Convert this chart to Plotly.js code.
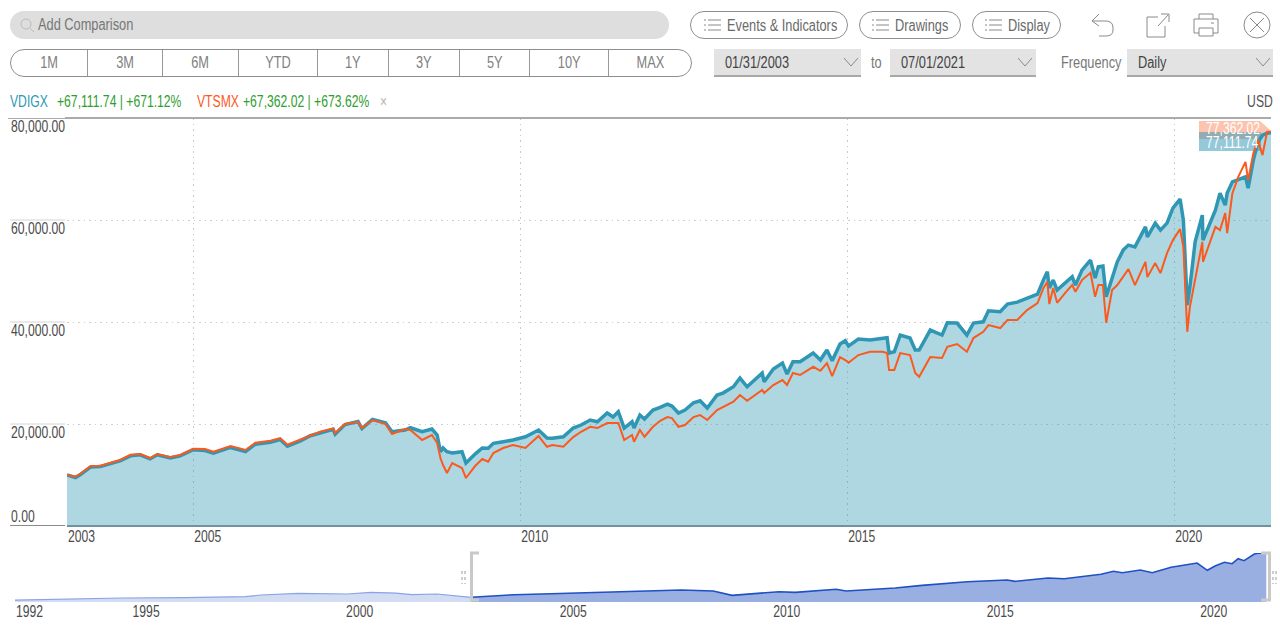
<!DOCTYPE html>
<html><head><meta charset="utf-8">
<script src="https://cdn.plot.ly/plotly-3.0.1.min.js"></script>
<style>
html,body{margin:0;padding:0;background:#fff;overflow:hidden}
body,div{font-family:"Liberation Sans",sans-serif}
#chart{position:absolute;left:0;top:0;width:1280px;height:627px}
#ui{position:absolute;left:0;top:0;width:1280px;height:627px;font-size:16px;color:#777}
#ui .b{position:absolute;box-sizing:border-box;white-space:nowrap}
.pill{border:1px solid #8e8e8e;border-radius:14px;height:28px;top:11px;line-height:27px;color:#6a6a6a}
.sel{background:#e3e3e3;border-bottom:2px solid #a8a8a8;height:28px;top:49px;line-height:27px;color:#444;padding-left:11px}
.rg{position:absolute;top:0;height:26px;line-height:26px;text-align:center;color:#808080;border-left:1px solid #999;box-sizing:border-box}
.nw{display:inline-block;transform:scaleX(.8);transform-origin:left center}
.rg .nw{transform-origin:center center}
svg.i{position:absolute;overflow:visible;fill:none;stroke:#8a8a8a;stroke-width:1}
</style></head><body>
<div id="chart"></div>
<div id="ui">
 <div class="b" style="left:10px;top:11px;width:659px;height:28px;background:#dedede;border-radius:14px;line-height:28px;padding-left:28px;color:#767676"><span class="nw">Add Comparison</span></div>
 <svg class="i" style="left:20px;top:18px" width="15" height="15"><circle cx="6" cy="6" r="5" stroke="#bbb"/><path d="M10 10L14 14" stroke="#bbb"/></svg>
 <div class="b" style="left:10px;top:49px;width:682px;height:28px;border:1px solid #8e8e8e;border-radius:14px" id="rg"></div>
 <div class="b pill" style="left:690px;width:158px;padding-left:36px"><span class="nw">Events &amp; Indicators</span></div>
 <div class="b pill" style="left:859px;width:102px;padding-left:35px"><span class="nw">Drawings</span></div>
 <div class="b pill" style="left:972px;width:89px;padding-left:35px"><span class="nw">Display</span></div>
 <svg class="i" style="left:704px;top:19px" width="18" height="12"><path d="M4 1H17M4 6H17M4 11H17M0 1H2M0 6H2M0 11H2"/></svg>
 <svg class="i" style="left:872px;top:19px" width="18" height="12"><path d="M4 1H17M4 6H17M4 11H17M0 1H2M0 6H2M0 11H2"/></svg>
 <svg class="i" style="left:985px;top:19px" width="18" height="12"><path d="M4 1H17M4 6H17M4 11H17M0 1H2M0 6H2M0 11H2"/></svg>
 <svg class="i" style="left:1090px;top:12px" width="26" height="26"><path d="M9 2L2 9L9 14M2 9H16Q23 9 23 16V18Q23 24 16 24H9"/></svg>
 <svg class="i" style="left:1145px;top:12px" width="26" height="26"><path d="M13 5H2V25H20V14M13 14L23 3M16 2H24V10"/></svg>
 <svg class="i" style="left:1192px;top:13px" width="28" height="24"><path d="M7 6V1H21V6M7 20H2V6H26V20H21M7 15H21V23H7ZM19 10H22"/></svg>
 <svg class="i" style="left:1243px;top:11px" width="28" height="28"><circle cx="14" cy="14" r="13"/><path d="M7 7L21 21M21 7L7 21"/></svg>
 <div class="b sel" style="left:714px;width:147px"><span class="nw">01/31/2003</span></div>
 <div class="b" style="left:871px;top:49px;line-height:28px;color:#777"><span class="nw">to</span></div>
 <div class="b sel" style="left:890px;width:146px"><span class="nw">07/01/2021</span></div>
 <div class="b" style="left:1061px;top:49px;line-height:28px;color:#777"><span class="nw">Frequency</span></div>
 <div class="b sel" style="left:1127px;width:146px"><span class="nw">Daily</span></div>
 <svg class="i" style="left:844px;top:57px" width="15" height="10"><path d="M0 1L7 9L14 1"/></svg>
 <svg class="i" style="left:1018px;top:57px" width="15" height="10"><path d="M0 1L7 9L14 1"/></svg>
 <svg class="i" style="left:1256px;top:57px" width="15" height="10"><path d="M0 1L7 9L14 1"/></svg>
</div>
<script>
// ---- data ----
const years = [2003.07,2003.20,2003.27,2003.43,2003.58,2003.73,2003.88,2004.04,2004.19,2004.34,2004.45,2004.65,2004.80,2005.00,2005.18,2005.31,2005.57,2005.80,2005.95,2006.18,2006.33,2006.44,2006.64,2006.79,2006.94,2007.14,2007.17,2007.32,2007.52,2007.58,2007.74,2007.94,2008.04,2008.24,2008.32,2008.50,2008.65,2008.73,2008.78,2008.82,2008.88,2008.96,2009.11,2009.17,2009.31,2009.42,2009.51,2009.59,2009.74,2009.89,2010.08,2010.28,2010.41,2010.49,2010.66,2010.81,2010.93,2011.07,2011.18,2011.33,2011.42,2011.50,2011.59,2011.71,2011.74,2011.83,2011.90,2012.03,2012.14,2012.25,2012.32,2012.42,2012.52,2012.65,2012.75,2012.86,2013.01,2013.10,2013.26,2013.36,2013.47,2013.70,2013.73,2013.87,2014.01,2014.08,2014.17,2014.28,2014.48,2014.59,2014.69,2014.77,2014.89,2014.97,2015.02,2015.17,2015.35,2015.54,2015.61,2015.64,2015.72,2015.81,2015.96,2016.04,2016.10,2016.27,2016.45,2016.53,2016.68,2016.83,2016.93,2017.08,2017.16,2017.34,2017.45,2017.60,2017.75,2017.91,2018.00,2018.06,2018.09,2018.15,2018.21,2018.33,2018.44,2018.49,2018.59,2018.72,2018.79,2018.84,2018.91,2018.96,2019.05,2019.13,2019.22,2019.30,2019.40,2019.56,2019.59,2019.71,2019.79,2019.89,2019.98,2020.09,2020.14,2020.20,2020.24,2020.32,2020.43,2020.44,2020.63,2020.70,2020.78,2020.81,2020.89,2020.98,2021.09,2021.13,2021.21,2021.28,2021.35,2021.42,2021.48];
const vdigx = [10000,9500,10050,11550,11650,12200,12750,13750,13950,13150,13950,13350,13750,14950,14800,14300,15400,14600,16050,16400,16950,15650,16700,17700,18250,18950,18000,19900,20500,19100,20900,20250,18480,18820,19270,18480,19010,17840,14560,15290,14560,14310,14560,12350,14110,15290,15230,16210,16520,16860,17500,18820,17250,17190,17500,19210,19800,20780,20440,22150,21360,22400,19210,20440,19210,21760,20970,22740,23270,23910,23520,22150,22740,24170,24560,23130,25680,26070,27300,29010,27300,29990,28280,30770,31950,29790,32200,32200,33910,32540,34500,32400,35670,36320,35280,36650,36460,36850,36910,33910,34160,37440,36850,34500,34500,38420,37440,39850,39790,37440,39790,40040,42200,42000,43510,43900,44690,45470,48220,49840,46650,48220,46260,47630,48860,47240,50180,52140,48610,50820,50960,44940,48860,51800,54100,55080,54740,58660,56700,59390,58020,59390,62330,64090,59980,43320,46840,55720,60960,56060,61940,65270,62920,65270,67480,68000,68460,66250,71740,75260,76640,77030,77111.74];
const vtsmx = [10000,9660,10190,11760,11820,12400,12940,13970,14110,13330,14110,13520,13920,15150,15090,14560,15680,14900,16330,16720,17250,15930,16990,17840,18480,19150,18230,19990,20440,19210,20780,19990,18030,19010,18820,16860,17840,16270,13330,11960,10390,12350,11370,9410,11760,13130,12600,14310,15290,15880,15290,17640,15540,15880,15540,17440,18480,19460,19210,20190,20190,20190,16860,17840,16520,18820,17500,19460,20640,21360,21170,19460,19800,21360,21760,20780,22740,23380,24360,25680,24560,26660,26070,27640,28620,27640,29990,29600,31220,30440,31950,29400,33120,32540,32010,33520,34160,34160,33910,30580,30580,33910,33520,29990,29260,33120,32930,35140,35670,34160,36850,38080,39400,38810,40380,40380,42340,43710,46650,47880,43510,46650,43770,45670,47240,45920,48220,49650,44940,47240,47240,39850,46260,47240,48860,50370,47240,51800,48800,51550,49590,53510,56060,58210,54680,38080,42980,48610,55720,51800,58660,58020,61350,57430,65270,68460,71400,67820,73110,75660,72720,77280,77362.02];
const navYearsBefore = [1992.27,1993.54,1994.78,1996.23,1997.66,1998.03,1998.90,2000.05,2000.61,2001.19,2001.57,2002.15,2002.62,2002.95];
const navValuesBefore = [3100,5200,6300,6800,8300,11000,13700,12600,15200,14100,11500,12600,9000,7400];
const navYearsSelected = [2002.95,2003.96,2004.82,2006.25,2006.91,2007.87,2008.62,2009.06,2010.16,2010.54,2011.50,2011.73,2012.88,2013.51,2014.57,2015.50,2015.69,2016.46,2016.84,2017.70,2017.99,2018.20,2018.62,2018.90,2019.34,2019.95,2020.19,2020.37,2020.59,2020.77,2020.91,2021.05,2021.29,2021.38,2021.57];
const navValuesSelected = [7400,11500,13000,15700,17300,18900,17300,10500,16200,15200,20000,17300,22000,26200,31900,34600,32500,37700,36600,43500,48200,46000,50300,46000,54500,61300,49800,56600,62400,60200,68000,64900,75400,76500,76500];
const xTickVals = [2003.07,2005,2010,2015,2020];
const xTickText = ['2003','2005','2010','2015','2020'];
const navTickVals = [1992.27,1995,2000,2005,2010,2015,2020];
const navTickText = ['1992','1995','2000','2005','2010','2015','2020'];
const yTickVals = [80000,60000,40000,20000,0];
const yTickText = ['80,000.00','60,000.00','40,000.00','20,000.00','0.00'];
const rangeLabels = ['1M','3M','6M','YTD','1Y','3Y','5Y','10Y','MAX'];
const rangeEdges = [0,76,151,227,306,377,448,518,597,681];

// range selector
const rg = document.getElementById('rg');
rangeLabels.forEach((t,i)=>{
  const d=document.createElement('div');d.className='rg';
  const s=document.createElement('span');s.className='nw';s.textContent=t;d.appendChild(s);
  d.style.left=rangeEdges[i]+'px';d.style.width=(rangeEdges[i+1]-rangeEdges[i])+'px';
  if(i===0)d.style.borderLeft='none';
  rg.appendChild(d);
});

const W=1280,H=627;
const px=x=>x/W, py=y=>1-y/H;
const FONT='"Liberation Sans",sans-serif';
const FS=16;
const TEAL='#2f97b4', ORANGE='#fb5a1e';

const traces=[
 {x:years,y:vdigx,type:'scatter',mode:'lines',name:'VDIGX',line:{color:TEAL,width:3.5,shape:'linear'},fill:'tozeroy',fillcolor:'rgba(47,151,180,0.39)',hoverinfo:'skip'},
 {x:years,y:vtsmx,type:'scatter',mode:'lines',name:'VTSMX',line:{color:ORANGE,width:2},hoverinfo:'skip'},
 {x:navYearsBefore,y:navValuesBefore,xaxis:'x2',yaxis:'y2',type:'scatter',mode:'lines',name:'history',line:{color:'#8aa3e6',width:1.2},fill:'tozeroy',fillcolor:'#d2dcf3',hoverinfo:'skip'},
 {x:navYearsSelected,y:navValuesSelected,xaxis:'x2',yaxis:'y2',type:'scatter',mode:'lines',name:'selected',line:{color:'#1f50c4',width:1.6},fill:'tozeroy',fillcolor:'#9aafe1',hoverinfo:'skip'}
];

const shapes=[];
const line=(x0,y0,x1,y1,color,width,dash,layer)=>shapes.push({type:'line',xref:'paper',yref:'paper',x0:px(x0),x1:px(x1),y0:py(y0),y1:py(y1),line:{color,width,dash:dash||'solid'},layer:layer||'above'});
// value tags
shapes.push({type:'path',xref:'paper',yref:'paper',layer:'below',line:{width:0},fillcolor:'rgba(251,90,30,0.36)',
 path:`M${px(1199)} ${py(121)} L${px(1260)} ${py(121)} L${px(1270)} ${py(130)} L${px(1262)} ${py(139)} L${px(1199)} ${py(139)} Z`});
shapes.push({type:'rect',xref:'paper',yref:'paper',layer:'below',line:{width:0},fillcolor:'rgba(47,151,180,0.52)',x0:px(1199),x1:px(1261),y0:py(132),y1:py(151)});
// left stubs of the value grid
yTickVals.forEach((v,i)=>{
 shapes.push({type:'line',xref:'paper',yref:'y',x0:px(i===0?8:10),x1:px(65),y0:v,y1:v,layer:'above',line:{color:i===4?'#8a8a8a':(i===0?'#aaaaaa':'#d4d4d4'),width:i===0||i===4?2:1}});
});
line(65,118,1271,118,'#aaaaaa',2);
line(67,526,1271,526,'#6f929d',2);
// navigator brackets
line(471.5,552,471.5,601,'#c9c9c9',3);line(470,553,479,553,'#c9c9c9',3);line(470,600,479,600,'#c9c9c9',3);
line(1269.5,552,1269.5,601,'#c9c9c9',3);line(1261,553,1271,553,'#c9c9c9',3);line(1261,600,1271,600,'#c9c9c9',3);
line(462,571,462,584,'#bdbdbd',1.5,'dot');line(465,571,465,584,'#bdbdbd',1.5,'dot');
line(1273,571,1273,584,'#bdbdbd',1.5,'dot');line(1276,571,1276,584,'#bdbdbd',1.5,'dot');

const annotations=[];
const note=(x,y,text,color,anchor,size)=>annotations.push({xref:'paper',yref:'paper',x:px(x),y:py(y),text,showarrow:false,xanchor:anchor||'left',yanchor:'middle',font:{family:FONT,size:size||FS,color},borderpad:0,borderwidth:0});
yTickVals.forEach((v,i)=>annotations.push({xref:'paper',yref:'y',x:px(10),y:v,text:yTickText[i],showarrow:false,xanchor:'left',yanchor:i===4?'bottom':'top',yshift:i===4?0:1,font:{family:FONT,size:FS,color:'#4a4a4a'},borderpad:0}));
note(10,102,'VDIGX',TEAL);
note(57,102,'+67,111.74 | +671.12%','#2f9e2f');
note(197,102,'VTSMX',ORANGE);
note(243,102,'+67,362.02 | +673.62%','#2f9e2f');
note(380,102,'×','#b5b5b5');
note(1273,102,'USD','#555555','right');
note(1206,128,'77,362.02','#ffffff');
note(1206,142,'77,111.74','#ffffff');

const layout={
 width:W,height:H,margin:{l:0,r:0,t:0,b:0},paper_bgcolor:'#fff',plot_bgcolor:'#fff',showlegend:false,
 font:{family:FONT,size:FS,color:'#4a4a4a'},
 xaxis:{domain:[px(67),px(1271)],range:[2003.07,2021.48],type:'linear',tickmode:'array',tickvals:xTickVals,ticktext:xTickText,ticklabelposition:'outside right',ticklabelstandoff:-1,ticks:'',showline:false,zeroline:false,showgrid:true,griddash:'1.5px,4px',gridcolor:'#c8c8c8',gridwidth:1,anchor:'y',fixedrange:true,tickfont:{family:FONT,size:FS,color:'#4a4a4a'}},
 yaxis:{domain:[py(526),py(118)],range:[0,80000],tickmode:'array',tickvals:yTickVals,showticklabels:false,ticks:'',zeroline:false,showline:false,showgrid:true,griddash:'1.5px,4px',gridcolor:'#cfcfcf',gridwidth:1,anchor:'x',fixedrange:true},
 xaxis2:{domain:[px(15),px(1268)],range:[1992.27,2021.61],type:'linear',tickmode:'array',tickvals:navTickVals,ticktext:navTickText,ticklabelposition:'outside right',ticklabelstandoff:-2,ticks:'',showgrid:false,zeroline:false,showline:false,anchor:'y2',fixedrange:true,tickfont:{family:FONT,size:FS,color:'#4a4a4a'}},
 yaxis2:{domain:[py(602),py(553)],range:[0,77000],visible:false,anchor:'x2',fixedrange:true},
 shapes,annotations
};
// the reference face is a condensed one: narrow the drawn text, keeping its left (or right) edge
function condense(){
 document.querySelectorAll('#chart svg text').forEach(t=>{
  if(!t.textContent.trim())return;
  const before=t.getBBox();
  const len=t.getComputedTextLength();
  t.setAttribute('textLength',(len*0.76).toFixed(2));
  t.setAttribute('lengthAdjust','spacingAndGlyphs');
  const after=t.getBBox();
  const keepRight=t.textContent==='USD';
  const dx=keepRight?(before.x+before.width)-(after.x+after.width):before.x-after.x;
  t.setAttribute('x',(parseFloat(t.getAttribute('x')||0)+dx+(t.closest('.xtick,.x2tick')?1:0)).toFixed(2));
 });
}
Plotly.newPlot('chart',traces,layout,{staticPlot:true,displayModeBar:false,responsive:false}).then(condense);
</script>
</body></html>
